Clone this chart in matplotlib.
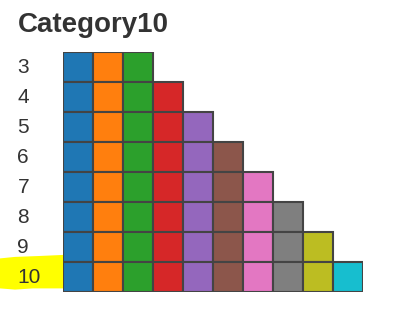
import matplotlib
matplotlib.use("Agg")
import matplotlib.pyplot as plt
from matplotlib.patches import Polygon

title = "Category10"
row_sizes = [3, 4, 5, 6, 7, 8, 9, 10]
row_labels = ["3", "4", "5", "6", "7", "8", "9", "10"]
colors = ["#1f77b4", "#ff7f0e", "#2ca02c", "#d62728", "#9467bd",
          "#8c564b", "#e377c2", "#7f7f7f", "#bcbd22", "#17becf"]
highlighted = "10"

W, H = 394, 313
fig = plt.figure(figsize=(W / 100, H / 100), dpi=100)
fig.patch.set_facecolor("white")

# axes spanning the grid area: x 63..363 px, y 52..292 px
ax = fig.add_axes([63 / W, (H - 292) / H, 300 / W, 240 / H])
ax.set_xlim(0, 10)
ax.set_ylim(len(row_sizes), 0)
ax.axis("off")

for i, n in enumerate(row_sizes):
    xs = list(range(n))
    ax.bar(xs, [1] * n, bottom=i, width=1, align="edge",
           color=colors[:n], edgecolor="#444444", linewidth=1.5, zorder=2)
    lab = row_labels[i]
    if lab == highlighted:
        # brush-like highlight behind the label
        poly = Polygon([(-2.1, i - 0.12), (-1.6, i - 0.17), (-0.8, i - 0.2),
                        (0.1, i - 0.24), (0.1, i + 0.88), (-1.0, i + 0.88),
                        (-1.6, i + 0.92), (-2.1, i + 0.88)],
                       closed=True, facecolor="#ffff00", edgecolor="none",
                       clip_on=False, zorder=1)
        ax.add_patch(poly)
    ax.text(-1.52, i + 0.53, lab, ha="left", va="center", fontsize=15,
            color="#333333", family="Liberation Sans", zorder=3, clip_on=False)

fig.text(18 / W, 1 - 32 / H, title, ha="left", va="baseline", fontsize=20,
         fontweight="bold", color="#333333", family="Liberation Sans")

fig.savefig("out.png", dpi=100)
